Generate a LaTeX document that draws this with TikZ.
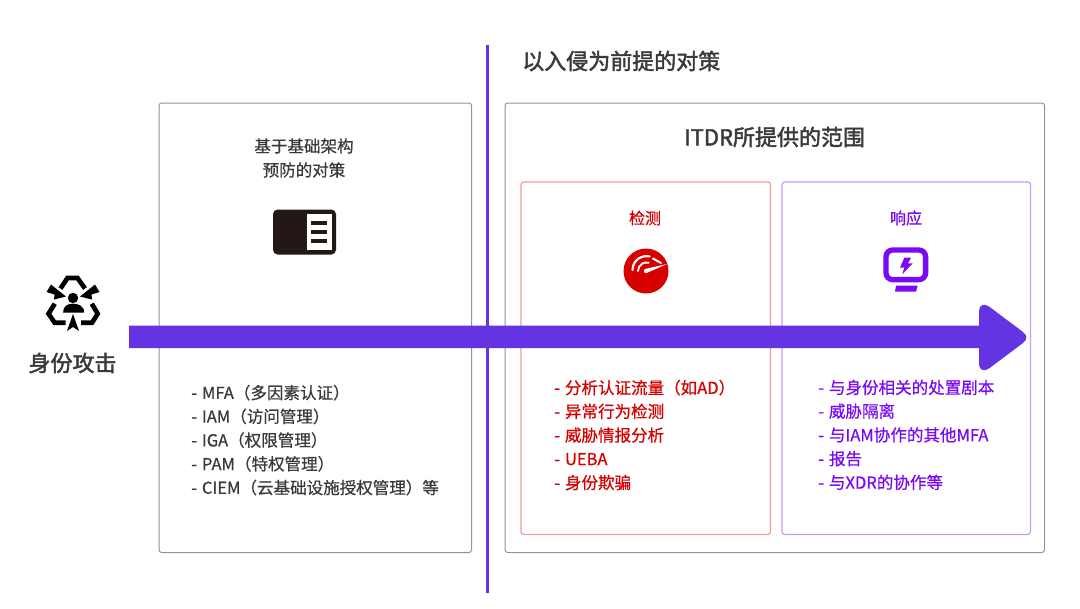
\documentclass[tikz,border=0pt]{standalone}
\usepackage{fontspec}
\setmainfont[FakeBold=0.6]{Noto Sans CJK SC}
\newfontfamily\medfont[FakeBold=2]{Noto Sans CJK SC}
\newcommand{\dashgap}{-\hspace{0.3em}}
\definecolor{txt}{HTML}{3A3A3A}
\definecolor{frame}{HTML}{949494}
\definecolor{vio}{HTML}{6534E2}
\definecolor{redc}{HTML}{D60000}
\definecolor{redl}{HTML}{F29A9A}
\definecolor{pur}{HTML}{7A0AF5}
\definecolor{purl}{HTML}{C79AFB}
\definecolor{ink}{HTML}{231815}
\tikzset{
 x=0.75pt,y=-0.75pt,
 panel/.style={draw=frame,line width=0.75pt,rounded corners=2pt,fill=white},
 redpanel/.style={draw=redl,line width=0.9pt,rounded corners=2pt,fill=white},
 purpanel/.style={draw=purl,line width=0.9pt,rounded corners=2pt,fill=white},
 head/.style={text=txt,font=\fontsize{16.5}{20}\medfont,inner sep=0pt},
 sub/.style={text=txt,font=\fontsize{12.4}{18}\selectfont,inner sep=0pt,align=center},
 lst/.style={anchor=north west,inner sep=0pt,align=left,font=\fontsize{12.4}{17.8}\selectfont},
 chev/.style={black,line width=3.5pt,line join=miter},
}
\begin{document}
\begin{tikzpicture}
\useasboundingbox (0,0) rectangle (1080,608);
\fill[white] (0,0) rectangle (1080,608);
% panels
\draw[panel] (159,103) rectangle (471.5,552.5);
\draw[panel] (505,103) rectangle (1044.5,552.5);
\draw[redpanel] (521,182) rectangle (770.5,534.5);
\draw[purpanel] (782,182) rectangle (1030.5,534.5);
% divider
\coordinate (divtop) at (487.5,45);
\coordinate (divbot) at (487.5,593);
\draw[draw=vio,line width=1.6pt] (divtop) -- (divbot);
% main arrow
\fill[vio] (129,325.5) -- (979,325.5) -- (979,311)
  .. controls (979,305) and (984,303) .. (989,306.5)
  -- (1023,332) .. controls (1027.5,335.5) and (1027.5,339.5) .. (1023,343)
  -- (989,368.5) .. controls (984,372) and (979,370) .. (979,364)
  -- (979,348) -- (129,348) -- cycle;
% headings
\node[head,anchor=west] (t1) at (522,61) {以入侵为前提的对策};
\node[head,anchor=west] (t2) at (684,137) {ITDR所提供的范围};
\node[head,anchor=center] (t3) at (72.5,363) {身份攻击};
\node[sub] (t4) at (304,158) {基于基础架构\\预防的对策};
\node[sub,text=redc,font=\fontsize{12}{16}\selectfont] (t5) at (645,218) {检测};
\node[sub,text=pur,font=\fontsize{12}{16}\selectfont] (t6) at (906,218) {响应};
% lists
\node[lst,text=txt] (l1) at (191,384.5) {\dashgap MFA（多因素认证）\\\dashgap IAM（访问管理）\\\dashgap IGA（权限管理）\\\dashgap PAM（特权管理）\\\dashgap CIEM（云基础设施授权管理）等};
\node[lst,text=redc] (l2) at (554,379.5) {\dashgap 分析认证流量（如AD）\\\dashgap 异常行为检测\\\dashgap 威胁情报分析\\\dashgap UEBA\\\dashgap 身份欺骗};
\node[lst,text=pur] (l3) at (818,379.5) {\dashgap 与身份相关的处置剧本\\\dashgap 威胁隔离\\\dashgap 与IAM协作的其他MFA\\\dashgap 报告\\\dashgap 与XDR的协作等};
% icon: document card
\fill[ink,rounded corners=3.5pt] (273,209.5) rectangle (336,254.5);
\fill[white] (306.5,213.5) rectangle (332,249.5);
\fill[ink] (311,220.5) rectangle (327,225);
\fill[ink] (311,229.5) rectangle (327,234);
\fill[ink] (311,238.5) rectangle (327,243);
% icon: gauge
\fill[redc] (646,271) circle (22.5);
\draw[white,line width=1.6pt,line cap=round] (632.5,270) arc[start angle=180,end angle=283,radius=14];
\draw[white,line width=1.4pt,line cap=round] (638,271) arc[start angle=180,end angle=285,radius=8.5];
\fill[white] (646,271) circle (2.2);
\fill[white] (645,269) -- (667,264) -- (646.5,273) -- cycle;
\draw[white,line width=1.5pt,line cap=round] (653,258.5) -- (661,263);
% icon: monitor
\draw[pur,line width=4pt,rounded corners=5pt] (886,250) rectangle (925.6,279.6);
\fill[pur] (896,285.7) -- (917.7,285.7) -- (916,291.7) -- (895,291.7) -- cycle;
\fill[pur] (904.3,257.7) -- (911,257.7) -- (908,263.3) -- (912.7,263.3) -- (902.3,274.3) -- (904.3,267.7) -- (900,267.7) -- cycle;
% icon: recycling arrows with person
\fill[black] (73,298) circle (5.2);
\fill[black] (63.2,312.5) .. controls (63.2,305.5) and (68,303.7) .. (73,303.7) .. controls (78,303.7) and (84.2,305.5) .. (84.2,312.5) -- cycle;
\draw[chev] (60.5,288.5) -- (67.5,278) -- (77.5,278) -- (85,288.5);
\draw[chev] (54.8,303.7) -- (48.5,313.7) -- (54.7,322.8) -- (65.5,322.8);
\draw[chev] (91.8,303.7) -- (97.7,313.7) -- (92,322.8) -- (81,322.8);
\fill[black] (51,284.5) -- (66,296.5) -- (54,299.5) -- (54.5,294.5) -- (46.5,292) -- cycle;
\fill[black] (95,284.5) -- (80,296.5) -- (92,299.5) -- (91.5,294.5) -- (99.5,292) -- cycle;
\fill[black] (73,314) -- (79,331) -- (73,327) -- (67,331) -- cycle;
\end{tikzpicture}
\end{document}
